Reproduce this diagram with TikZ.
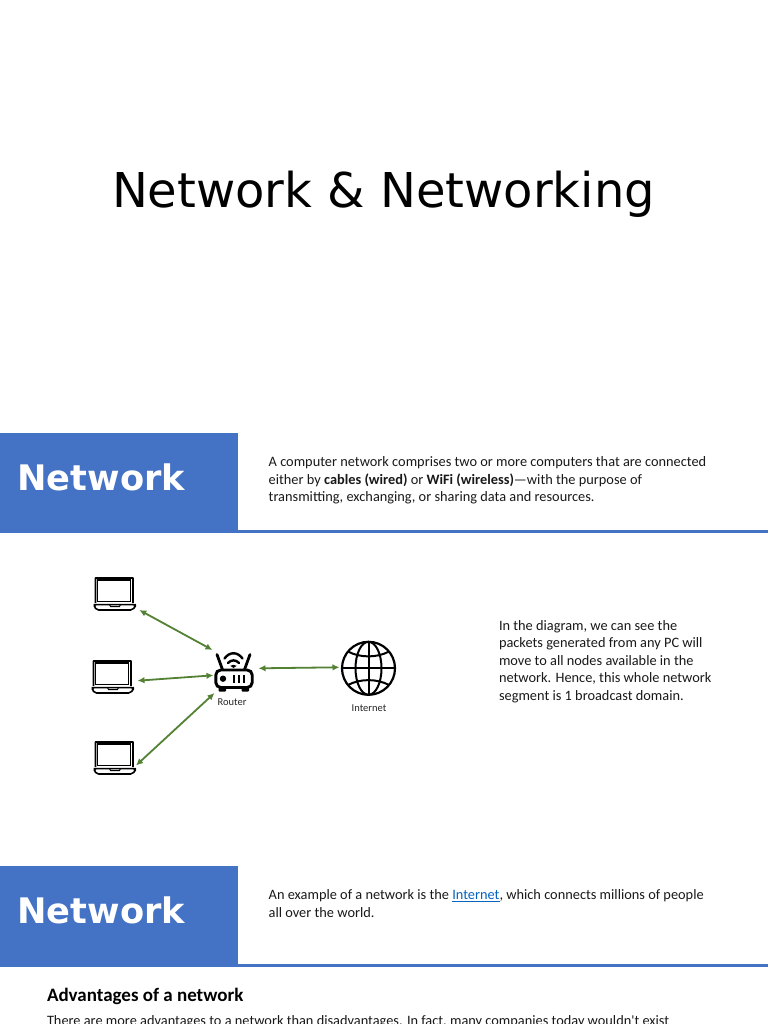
\documentclass[tikz,border=0pt]{standalone}
\usepackage{fontspec}
\setmainfont{Carlito}
\newfontfamily\headfont{DejaVu Sans}
\definecolor{bannerblue}{HTML}{4472C4}
\definecolor{linkgreen}{HTML}{548235}
\definecolor{linkblue}{HTML}{0563C1}
\usetikzlibrary{arrows.meta}
\tikzset{
  every node/.style={inner sep=0pt,outer sep=0pt},
  banner/.style={fill=bannerblue,draw=none},
  bannertext/.style={anchor=base west,text=white,font=\headfont\bfseries\fontsize{35.2}{36}\selectfont},
  bodytext/.style={anchor=base west,text=black!90,font=\fontsize{14.35}{17}\selectfont},
  small/.style={anchor=center,text=black!85,font=\fontsize{10.5}{12}\selectfont},
  duplex/.style={draw=linkgreen,line width=1.8pt,{Latex[length=7pt,width=6.5pt]}-{Latex[length=7pt,width=6.5pt]}},
  laptop/.pic={
    \draw[black,line width=1.8pt,rounded corners=0.6pt] (2,26) -- (2,0.9) -- (39.5,0.9) -- (39.5,26);
    \draw[black,line width=1.2pt] (4.2,3) rectangle (37.3,24.5);
    \draw[black,line width=1.6pt,line join=round,rounded corners=2pt] (0.8,27.6) -- (41.8,27.6) -- (41.8,29.5) -- (39,33) -- (3,33) -- (0.8,29.5) -- cycle;
    \draw[black,line width=1pt] (16,27.6) -- (17,29.5) -- (26,29.5) -- (27,27.6);
  }
}
\begin{document}
\begin{tikzpicture}[x=1pt,y=-1pt]
\useasboundingbox (0,0) rectangle (768,1024);
\clip (0,0) rectangle (768,1024);
\fill[white] (0,0) rectangle (768,1024);

\node[anchor=base,font=\headfont\fontsize{48}{50}\selectfont] (title) at (383.5,208) {Network \& Networking};

% first banner
\draw[bannerblue,line width=3pt] (238,531.5) -- (768,531.5);
\fill[banner] (0,433) rectangle (237.5,533);
\node[bannertext] (net1) at (17.5,490) {Network};
\node[bodytext] (p1a) at (268.7,466.5) {A computer network comprises two or more computers that are connected};
\node[bodytext] (p1b) at (268.7,484.5) {either by \textbf{cables (wired)} or \textbf{WiFi (wireless)}—with the purpose of};
\node[bodytext] (p1c) at (268.7,501.5) {transmitting, exchanging, or sharing data and resources.};

% icons
\pic at (93.5,577) {laptop};
\pic at (91.5,660) {laptop};
\pic at (93.5,741) {laptop};

% router
\draw[black,line width=2.8pt,line cap=round] (217,654.5) -- (223,671);
\draw[black,line width=2.8pt,line cap=round] (250,654.5) -- (244,671);
\draw[black,line width=2.4pt,line cap=round] (224.5,658.5) .. controls (229.5,651.5) and (237.5,651.5) .. (242.5,658.5);
\draw[black,line width=2.4pt,line cap=round] (228,663) .. controls (231,659.5) and (236,659.5) .. (239,663);
\fill[black] (230.3,665.8) .. controls (232,664.5) and (235,664.5) .. (236.7,665.8) -- (233.5,668) -- cycle;
\fill[black,rounded corners=1pt] (218.5,686) rectangle (226,691.5);
\fill[black,rounded corners=1pt] (241.5,686) rectangle (249,691.5);
\draw[black,line width=2.9pt,rounded corners=5pt,fill=white] (215.8,670) rectangle (252.2,687.5);
\fill[black] (223,678.7) circle (3.2pt);
\foreach \x in {234,239,244} \draw[black,line width=2.4pt] (\x,675) -- (\x,682.5);

% globe
\draw[black,line width=2.2pt] (368.5,668.3) circle (26.5);
\draw[black,line width=2pt] (368.5,668.3) ellipse (13 and 26.5);
\draw[black,line width=2pt] (368.5,641.8) -- (368.5,694.8);
\draw[black,line width=2pt] (342,668.3) -- (395,668.3);
\draw[black,line width=2pt] (348,651.5) .. controls (360,658) and (377,658) .. (389,651.5);
\draw[black,line width=2pt] (348,685) .. controls (360,678.5) and (377,678.5) .. (389,685);

\node[small] (router) at (232,702) {Router};
\node[small] (internet) at (369,708.5) {Internet};

\coordinate (a1) at (139.3,610);
\coordinate (b1) at (212.5,650);
\coordinate (a2) at (137.5,680.7);
\coordinate (b2) at (213.5,675.3);
\coordinate (a3) at (136,765.5);
\coordinate (b3) at (214.5,693);
\coordinate (a4) at (258.5,668.3);
\coordinate (b4) at (339.5,667.3);
\draw[duplex] (a1) -- (b1);
\draw[duplex] (a2) -- (b2);
\draw[duplex] (a3) -- (b3);
\draw[duplex] (a4) -- (b4);

\node[bodytext] (p2a) at (499,630) {In the diagram, we can see the};
\node[bodytext] (p2b) at (499,647.5) {packets generated from any PC will};
\node[bodytext] (p2c) at (499,665) {move to all nodes available in the};
\node[bodytext] (p2d) at (499,682) {network. Hence, this whole network};
\node[bodytext] (p2e) at (499,700) {segment is 1 broadcast domain.};

% second banner
\draw[bannerblue,line width=3pt] (238,965) -- (768,965);
\fill[banner] (0,866) rectangle (237.5,966.5);
\node[bannertext] (net2) at (17.5,923) {Network};
\node[bodytext] (p3a) at (268.7,899.5) {An example of a network is the \textcolor{linkblue}{\underline{Internet}}, which connects millions of people};
\node[bodytext] (p3b) at (268.7,917.5) {all over the world.};

\node[anchor=base west,font=\bfseries\fontsize{19}{20}\selectfont] (adv) at (47,1001) {Advantages of a network};
\node[bodytext] (p4) at (47,1025.5) {There are more advantages to a network than disadvantages. In fact, many companies today wouldn\textquotesingle t exist};
\end{tikzpicture}
\end{document}
